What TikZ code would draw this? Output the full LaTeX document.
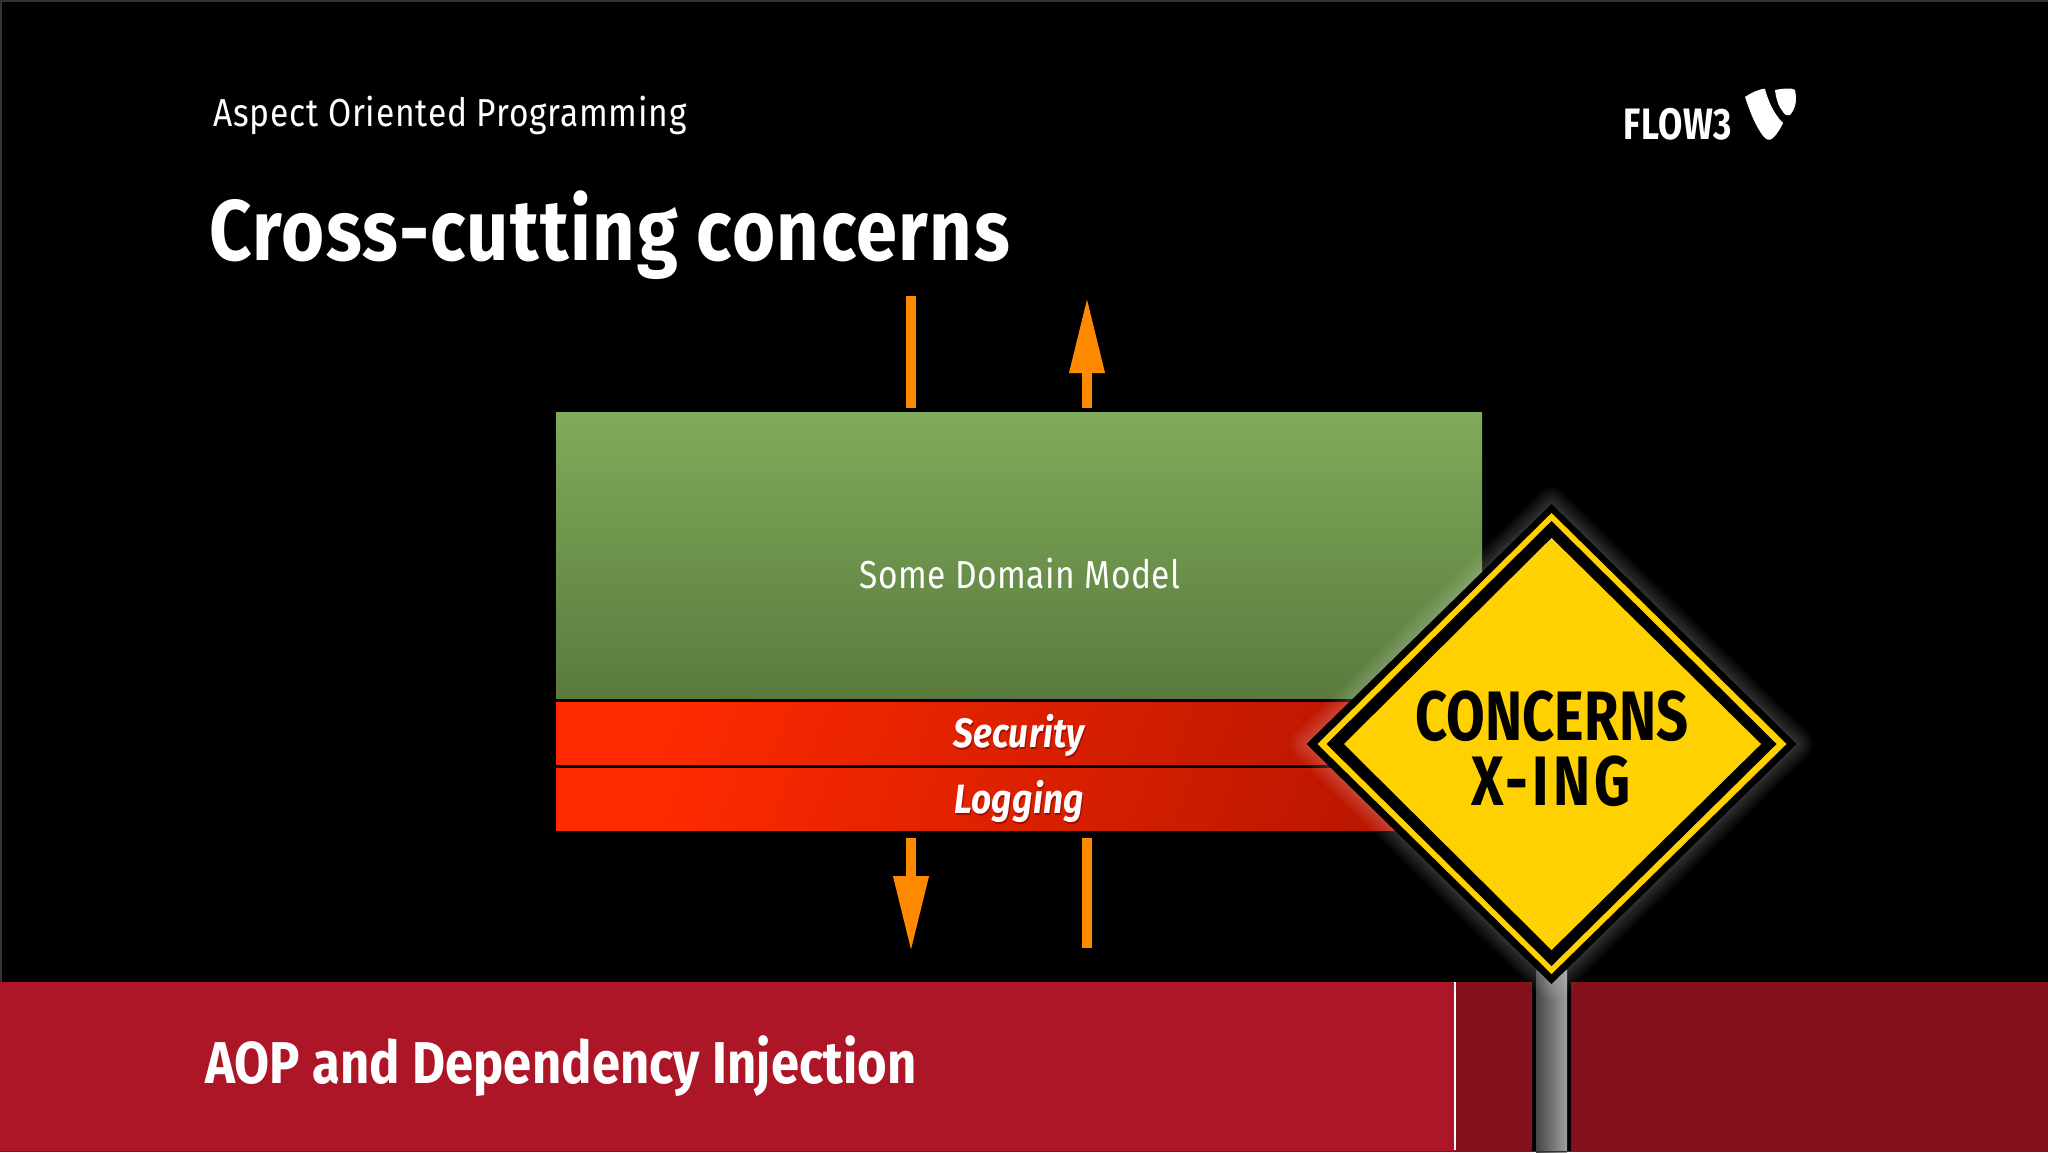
\documentclass[tikz,border=0pt]{standalone}
\usepackage{fontspec}
\usetikzlibrary{arrows.meta}
\setmainfont{Fira Sans}
\newfontfamily\txtfont[FakeStretch=0.86]{Fira Sans}
\newfontfamily\signfont[FakeStretch=0.80]{Fira Sans}
\definecolor{arrowor}{HTML}{FF8A00}
\definecolor{signy}{HTML}{FFD100}
\definecolor{footred}{RGB}{172,22,39}
\definecolor{footdark}{RGB}{133,15,26}
\definecolor{edgegrey}{HTML}{333333}
\tikzset{
  x=0.5pt,y=-0.5pt,
  flowline/.style={draw=arrowor,line width=5pt},
  flowarrowlong/.style={flowline,-{Triangle[length=38pt,width=16.5pt]}},
  txt/.style={inner sep=0pt,text=white,font=\txtfont},
  redbar/.style={left color={rgb,255:red,255;green,42;blue,0},right color={rgb,255:red,185;green,22;blue,0},shading angle=70},
  shadowtxt/.style={txt,text=black!60!red,opacity=.5},
}
\newcommand{\kickerfont}{\fontsize{19.5pt}{22pt}\selectfont\addfontfeature{LetterSpace=2}}
\newcommand{\bandfont}{\fontsize{20.5pt}{22pt}\selectfont\bfseries\itshape\addfontfeature{LetterSpace=0.7}}
\begin{document}
\begin{tikzpicture}
\fill[black] (0,0) rectangle (2048,1152);
\useasboundingbox (0,0) rectangle (2048,1152);
% footer band
\fill[footred] (0,982) rectangle (1455,1152);
\fill[footdark] (1455,982) rectangle (2048,1152);
\fill[white] (1454,982) rectangle (1456,1150);
% texts
\node[txt,anchor=base west] (kicker) at (213,126) {\kickerfont Aspect Oriented Programming};
\node[txt,anchor=base west] (title) at (209,260) {\fontsize{43pt}{46pt}\selectfont\bfseries\addfontfeature{LetterSpace=1.7}Cross-cutting concerns};
\node[txt,anchor=base] (footer) at (561,1083) {\fontsize{29.5pt}{32pt}\selectfont\bfseries\addfontfeature{LetterSpace=0.2}AOP and Dependency Injection};
% blocks
\shade[top color={rgb,255:red,128;green,171;blue,90},bottom color={rgb,255:red,89;green,122;blue,61}] (556,412) rectangle (1482,698);
\shade[redbar] (556,702) rectangle (1482,764);
\shade[redbar] (556,768) rectangle (1482,830);
\node[txt] (domain) at (1020,574) {\fontsize{19.5pt}{22pt}\selectfont\addfontfeature{LetterSpace=1.2}Some Domain Model};
\node[shadowtxt] at (1020,737) {\bandfont Security};
\node[txt] (security) at (1019,735) {\bandfont Security};
\node[shadowtxt] at (1020,803) {\bandfont Logging};
\node[txt] (logging) at (1019,801) {\bandfont Logging};
% arrows
\coordinate (a1s) at (911,296); \coordinate (a1e) at (911,408);
\coordinate (a2s) at (1087,408); \coordinate (a2e) at (1087,297);
\coordinate (a3s) at (911,838); \coordinate (a3e) at (911,952);
\coordinate (a4s) at (1087,838); \coordinate (a4e) at (1087,948);
\draw[flowline] (a1s) -- (a1e);
\draw[flowarrowlong] (a2s) -- (a2e);
\draw[flowarrowlong] (a3s) -- (a3e);
\draw[flowline] (a4s) -- (a4e);
% post
\fill[black] (1532,970) rectangle (1571,1152);
\shade[left color={rgb,255:red,70;green,70;blue,70},right color={rgb,255:red,160;green,160;blue,160}] (1536,970) rectangle (1567,1152);
% sign glow
\foreach \w in {16,13,10,7,4,2}{
  \draw[white,opacity=0.035,line width=\w pt,line join=round]
    (1551.5,504) -- (1796.5,744) -- (1551.5,984) -- (1306.5,744) -- cycle;
}
% sign
\fill[black] (1551.5,504) -- (1796.5,744) -- (1551.5,984) -- (1306.5,744) -- cycle;
\fill[signy] (1551.5,513) -- (1786.5,744) -- (1551.5,974) -- (1317.5,744) -- cycle;
\fill[black] (1551.5,521) -- (1776.5,744) -- (1551.5,966) -- (1326.5,744) -- cycle;
\fill[signy] (1551.5,538) -- (1761,744) -- (1551.5,950) -- (1344,744) -- cycle;
\node[inner sep=0pt,anchor=base,text=black,font=\signfont] (signtxtA) at (1552,740)
  {\fontsize{35pt}{38pt}\selectfont\bfseries CONCERNS};
\node[inner sep=0pt,anchor=base,text=black,font=\signfont] (signtxtB) at (1551,805)
  {\fontsize{35pt}{38pt}\selectfont\bfseries\addfontfeature{LetterSpace=6}X-ING};
% logo
\node[inner sep=0pt,anchor=base west,text=white,font=\signfont] (flow) at (1623,139) {\fontsize{22pt}{24pt}\selectfont\bfseries\addfontfeature{LetterSpace=1.5}FLOW3};
\fill[white] (1745,97) .. controls (1755,90) and (1765,88) .. (1765,89)
  .. controls (1770,108) and (1778,118) .. (1783,123)
  .. controls (1782,125) and (1779,132) .. (1773,138)
  .. controls (1770,141) and (1766,140) .. (1763,136)
  .. controls (1755,125) and (1750,112) .. (1745,97) -- cycle;
\fill[white] (1775,90) .. controls (1785,88) and (1793,88) .. (1795,90)
  .. controls (1797,100) and (1796,108) .. (1790,115)
  .. controls (1787,116) and (1785,115) .. (1783,112)
  .. controls (1778,106) and (1776,98) .. (1775,90) -- cycle;
% picture edge
\fill[edgegrey] (0,0) rectangle (2048,1.5);
\fill[edgegrey] (0,0) rectangle (1.5,982);
\fill[edgegrey] (0,1150.5) rectangle (2048,1152);
\end{tikzpicture}
\end{document}
